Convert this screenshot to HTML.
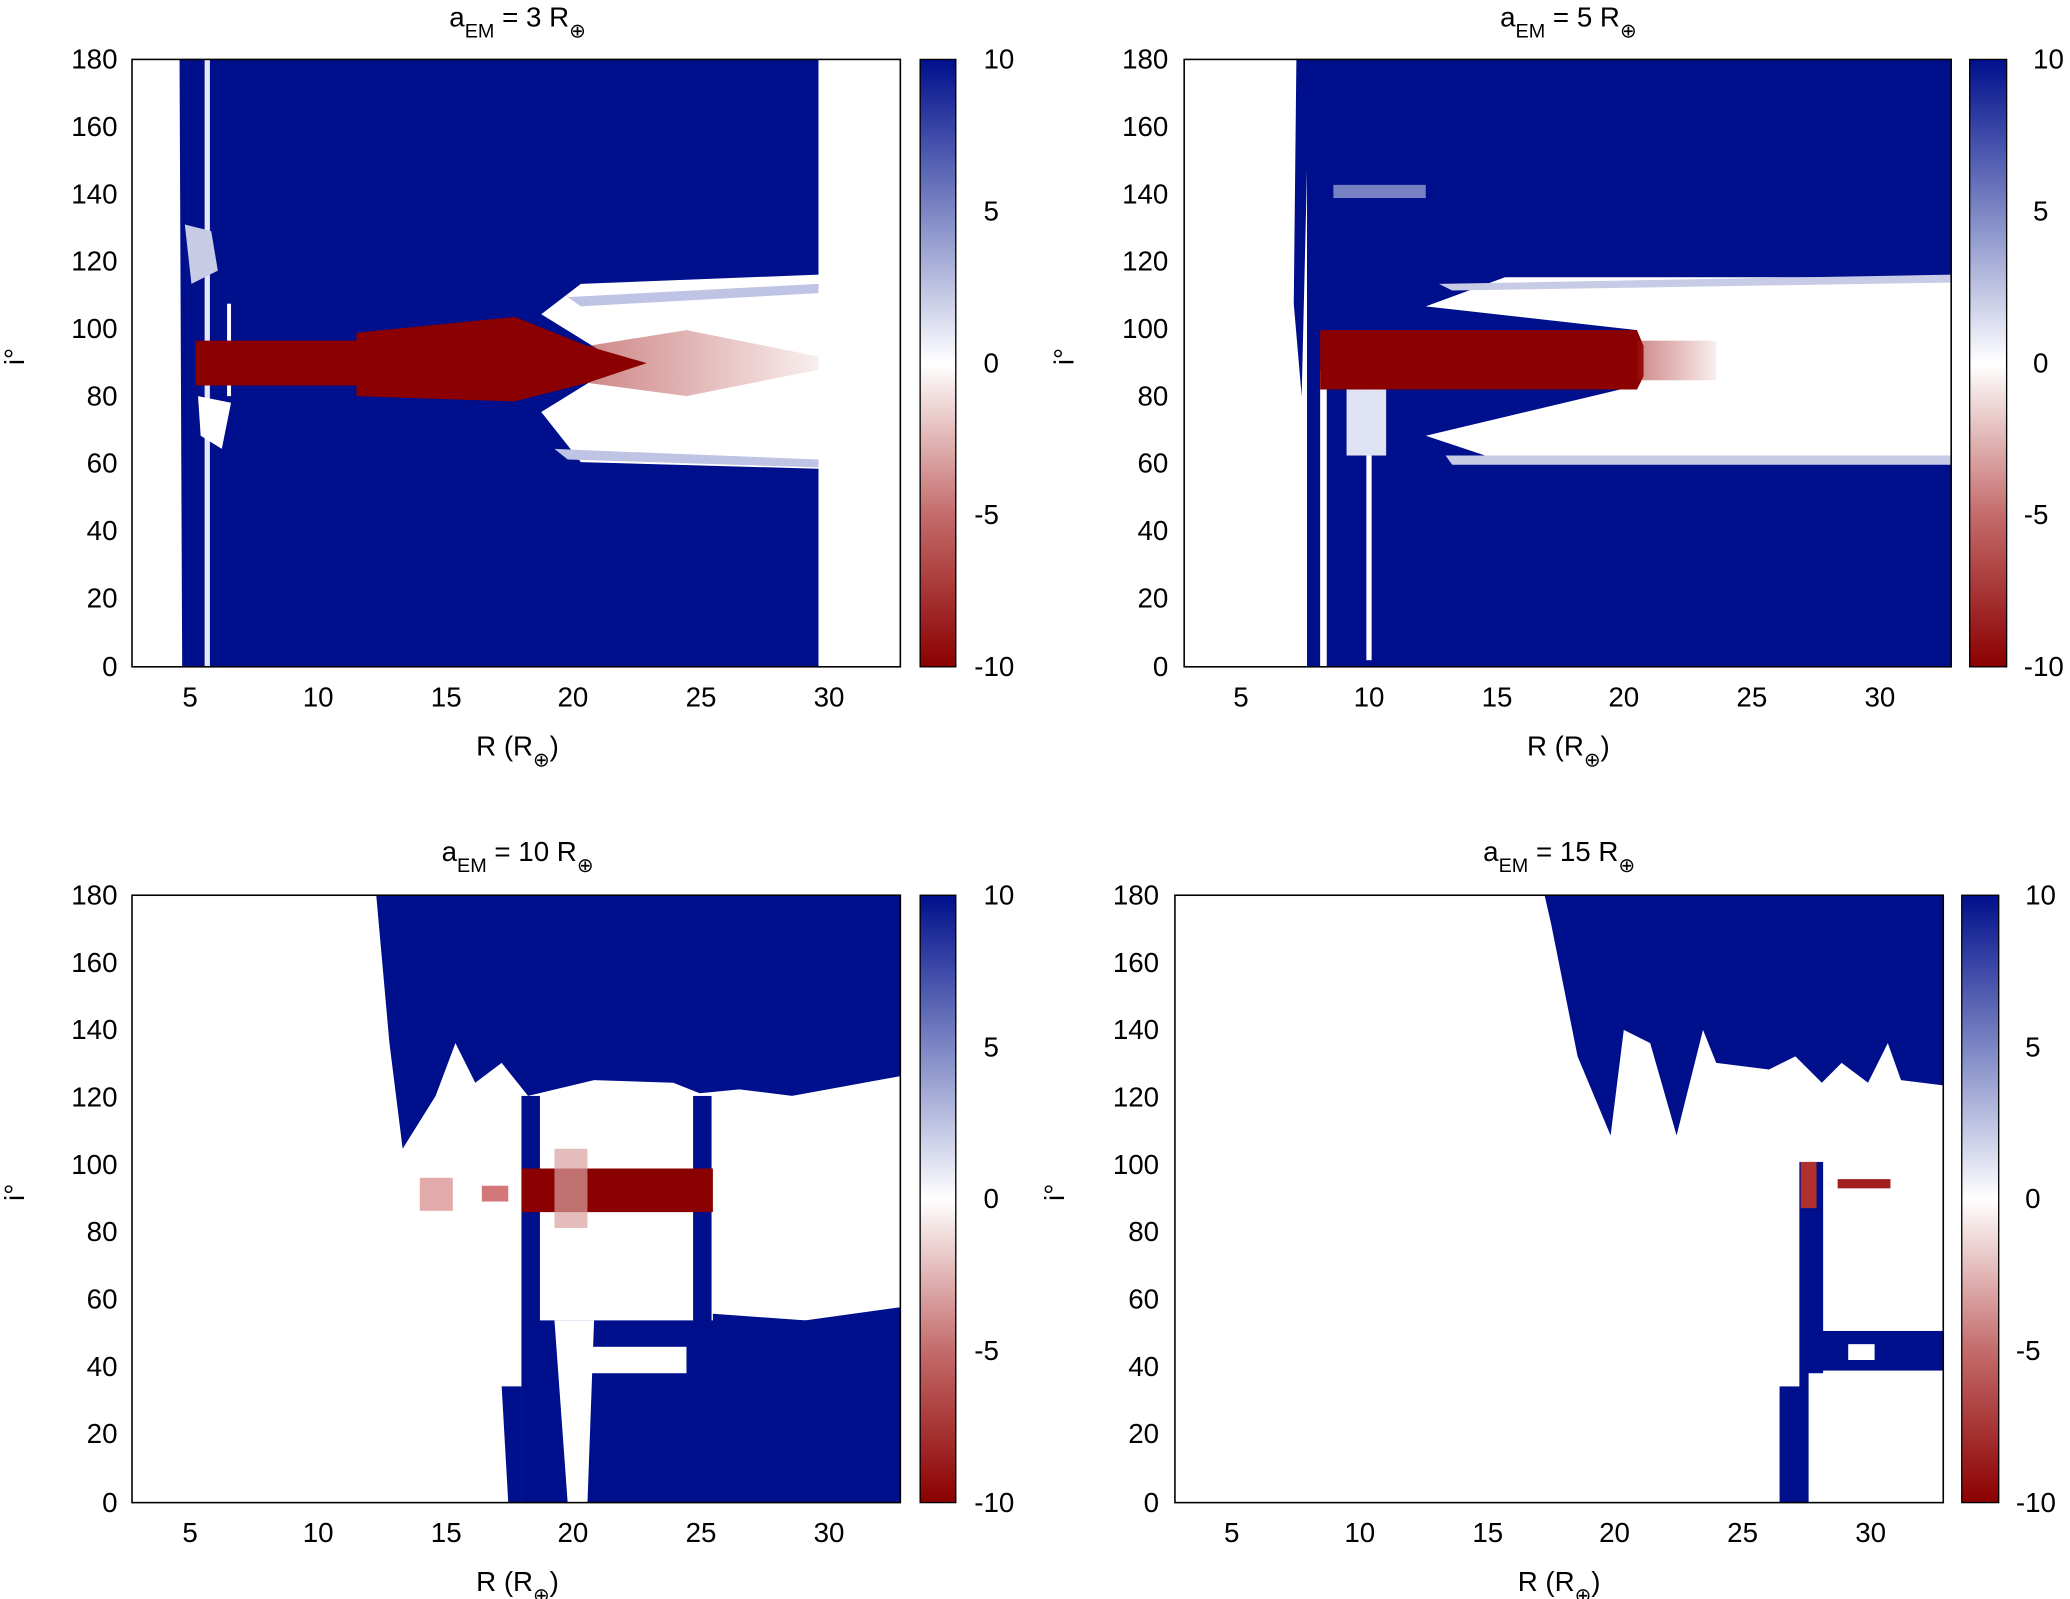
<!DOCTYPE html>
<html><head><meta charset="utf-8"><style>html,body{margin:0;padding:0;background:#fff}svg{display:block}</style></head>
<body>
<svg width="2070" height="1599" viewBox="0 0 1568 1211" preserveAspectRatio="none" xmlns="http://www.w3.org/2000/svg" font-family="Liberation Sans, Arial, sans-serif">
<defs>
<linearGradient id="cb" x1="0" y1="0" x2="0" y2="1">
<stop offset="0" stop-color="#000f8c"/>
<stop offset="0.25" stop-color="#7c86c4"/>
<stop offset="0.5" stop-color="#ffffff"/>
<stop offset="0.75" stop-color="#c46b6b"/>
<stop offset="1" stop-color="#8b0000"/>
</linearGradient>
<linearGradient id="fade" x1="0" y1="0" x2="1" y2="0">
<stop offset="0" stop-color="#a01010"/>
<stop offset="1" stop-color="#f2dede"/>
</linearGradient>
</defs>
<g font-size="20" fill="#000">
<!-- Panel 1 -->
<rect x="142" y="45" width="478" height="460" fill="#000f8c"/>
<rect x="155" y="45" width="4" height="460" fill="#fff" opacity="0.9"/>
<polygon points="142,45 136,45 138,505 142,505" fill="#000f8c"/>
<polygon points="140,170 160,175 165,205 145,215" fill="#c7cbe6"/>
<polygon points="150,300 175,305 168,340 152,330" fill="#fff"/>
<rect x="172" y="230" width="3" height="70" fill="#fff"/>
<polygon points="410,238 440,215 620,208 620,355 440,350 410,312 470,275" fill="#fff"/>
<polygon points="430,225 620,215 620,222 440,232" fill="#bfc4e4"/>
<polygon points="420,340 620,348 620,354 430,348" fill="#bfc4e4"/>
<polygon points="445,262 520,250 620,270 620,280 520,300 445,290 490,275" fill="url(#fade)" opacity="0.5"/>
<polygon points="148,258 270,258 270,252 390,240 445,262 490,275 445,290 390,304 270,300 270,292 148,292" fill="#8b0000"/>
<rect x="100" y="45" width="582" height="460" fill="none" stroke="#000" stroke-width="1.2"/>
<!-- Panel 2 -->
<rect x="990" y="45" width="488" height="460" fill="#000f8c"/>
<rect x="1000" y="280" width="5" height="225" fill="#fff"/>
<rect x="1035" y="280" width="4" height="220" fill="#fff"/>
<polygon points="975,45 990,45 990,505 982,505" fill="#fff"/>
<polygon points="982,45 992,45 986,300 980,230" fill="#000f8c"/>
<polygon points="1080,232 1140,210 1478,210 1478,350 1140,350 1080,330 1240,292 1240,250" fill="#fff"/>
<polygon points="1090,215 1478,208 1478,214 1100,220" fill="#c7cbe6"/>
<polygon points="1095,345 1478,345 1478,352 1100,352" fill="#c7cbe6"/>
<polygon points="1000,250 1240,250 1245,262 1245,285 1240,295 1000,295" fill="#8b0000"/>
<rect x="1240" y="258" width="60" height="30" fill="url(#fade)" opacity="0.5"/>
<rect x="1010" y="140" width="70" height="10" fill="#c7cbe6" opacity="0.6"/>
<rect x="1020" y="295" width="30" height="50" fill="#dfe2f2"/>
<rect x="897" y="45" width="581" height="460" fill="none" stroke="#000" stroke-width="1.2"/>
<!-- Panel 3 -->
<polygon points="285,678 682,678 682,815 600,830 560,825 530,828 510,820 450,818 400,830 380,805 360,820 345,790 330,830 305,870 295,790" fill="#000f8c"/>
<polygon points="395,1000 682,1000 682,1138 395,1138" fill="#000f8c"/>
<polygon points="540,995 610,1000 682,990 682,1010 540,1010" fill="#000f8c"/>
<rect x="395" y="830" width="14" height="308" fill="#000f8c"/>
<rect x="525" y="830" width="14" height="308" fill="#000f8c"/>
<polygon points="420,1000 450,1000 445,1138 430,1138" fill="#fff"/>
<rect x="440" y="1020" width="80" height="20" fill="#fff"/>
<polygon points="395,885 540,885 540,918 395,918" fill="#8b0000"/>
<rect x="420" y="870" width="25" height="60" fill="#d8a0a0" opacity="0.7"/>
<rect x="318" y="892" width="25" height="25" fill="#e2aaaa"/>
<rect x="365" y="898" width="20" height="12" fill="#d27878"/>
<polygon points="380,1050 395,1050 395,1138 385,1138" fill="#000f8c"/>
<rect x="100" y="678" width="582" height="460" fill="none" stroke="#000" stroke-width="1.2"/>
<!-- Panel 4 -->
<polygon points="1170,678 1472,678 1472,822 1440,818 1430,790 1415,820 1395,805 1380,820 1360,800 1340,810 1300,805 1290,780 1270,860 1250,790 1230,780 1220,860 1195,800 1175,700" fill="#000f8c"/>
<rect x="1363" y="880" width="18" height="258" fill="#000f8c"/>
<rect x="1348" y="1050" width="18" height="88" fill="#000f8c"/>
<rect x="1380" y="1008" width="92" height="30" fill="#000f8c"/>
<rect x="1400" y="1018" width="20" height="12" fill="#fff"/>
<rect x="1364" y="880" width="12" height="35" fill="#b03030"/>
<rect x="1392" y="893" width="40" height="7" fill="#a02020"/>
<rect x="1370" y="1040" width="12" height="98" fill="#fff"/>
<rect x="890" y="678" width="582" height="460" fill="none" stroke="#000" stroke-width="1.2"/>
<!-- colorbars -->
<rect x="697" y="45" width="27" height="460" fill="url(#cb)" stroke="#000" stroke-width="1"/>
<rect x="1492" y="45" width="28" height="460" fill="url(#cb)" stroke="#000" stroke-width="1"/>
<rect x="697" y="678" width="27" height="460" fill="url(#cb)" stroke="#000" stroke-width="1"/>
<rect x="1486" y="678" width="28" height="460" fill="url(#cb)" stroke="#000" stroke-width="1"/>
</g>
<g font-size="21" fill="#000">
<g text-anchor="end">
<text x="89" y="52">180</text><text x="89" y="103">160</text><text x="89" y="154">140</text><text x="89" y="205">120</text><text x="89" y="256">100</text><text x="89" y="307">80</text><text x="89" y="358">60</text><text x="89" y="409">40</text><text x="89" y="460">20</text><text x="89" y="512">0</text>
<text x="885" y="52">180</text><text x="885" y="103">160</text><text x="885" y="154">140</text><text x="885" y="205">120</text><text x="885" y="256">100</text><text x="885" y="307">80</text><text x="885" y="358">60</text><text x="885" y="409">40</text><text x="885" y="460">20</text><text x="885" y="512">0</text>
<text x="89" y="685">180</text><text x="89" y="736">160</text><text x="89" y="787">140</text><text x="89" y="838">120</text><text x="89" y="889">100</text><text x="89" y="940">80</text><text x="89" y="991">60</text><text x="89" y="1042">40</text><text x="89" y="1093">20</text><text x="89" y="1145">0</text>
<text x="878" y="685">180</text><text x="878" y="736">160</text><text x="878" y="787">140</text><text x="878" y="838">120</text><text x="878" y="889">100</text><text x="878" y="940">80</text><text x="878" y="991">60</text><text x="878" y="1042">40</text><text x="878" y="1093">20</text><text x="878" y="1145">0</text>
</g>
<g text-anchor="middle">
<text x="144" y="535">5</text><text x="241" y="535">10</text><text x="338" y="535">15</text><text x="434" y="535">20</text><text x="531" y="535">25</text><text x="628" y="535">30</text>
<text x="940" y="535">5</text><text x="1037" y="535">10</text><text x="1134" y="535">15</text><text x="1230" y="535">20</text><text x="1327" y="535">25</text><text x="1424" y="535">30</text>
<text x="144" y="1168">5</text><text x="241" y="1168">10</text><text x="338" y="1168">15</text><text x="434" y="1168">20</text><text x="531" y="1168">25</text><text x="628" y="1168">30</text>
<text x="933" y="1168">5</text><text x="1030" y="1168">10</text><text x="1127" y="1168">15</text><text x="1223" y="1168">20</text><text x="1320" y="1168">25</text><text x="1417" y="1168">30</text>
<text x="392" y="572">R (R<tspan baseline-shift="sub" font-size="15">⊕</tspan>)</text>
<text x="1188" y="572">R (R<tspan baseline-shift="sub" font-size="15">⊕</tspan>)</text>
<text x="392" y="1205">R (R<tspan baseline-shift="sub" font-size="15">⊕</tspan>)</text>
<text x="1181" y="1205">R (R<tspan baseline-shift="sub" font-size="15">⊕</tspan>)</text>
<text x="392" y="20">a<tspan baseline-shift="sub" font-size="15">EM</tspan> = 3 R<tspan baseline-shift="sub" font-size="15">⊕</tspan></text>
<text x="1188" y="20">a<tspan baseline-shift="sub" font-size="15">EM</tspan> = 5 R<tspan baseline-shift="sub" font-size="15">⊕</tspan></text>
<text x="392" y="652">a<tspan baseline-shift="sub" font-size="15">EM</tspan> = 10 R<tspan baseline-shift="sub" font-size="15">⊕</tspan></text>
<text x="1181" y="652">a<tspan baseline-shift="sub" font-size="15">EM</tspan> = 15 R<tspan baseline-shift="sub" font-size="15">⊕</tspan></text>
</g>
<g text-anchor="start">
<text x="745" y="52">10</text><text x="745" y="167">5</text><text x="745" y="282">0</text><text x="738" y="397">-5</text><text x="738" y="512">-10</text>
<text x="1540" y="52">10</text><text x="1540" y="167">5</text><text x="1540" y="282">0</text><text x="1533" y="397">-5</text><text x="1533" y="512">-10</text>
<text x="745" y="685">10</text><text x="745" y="800">5</text><text x="745" y="915">0</text><text x="738" y="1030">-5</text><text x="738" y="1145">-10</text>
<text x="1534" y="685">10</text><text x="1534" y="800">5</text><text x="1534" y="915">0</text><text x="1527" y="1030">-5</text><text x="1527" y="1145">-10</text>
</g>
<text transform="translate(18,270) rotate(-90)" text-anchor="middle">i°</text>
<text transform="translate(813,270) rotate(-90)" text-anchor="middle">i°</text>
<text transform="translate(18,903) rotate(-90)" text-anchor="middle">i°</text>
<text transform="translate(806,903) rotate(-90)" text-anchor="middle">i°</text>
</g>
</svg>
</body></html>
